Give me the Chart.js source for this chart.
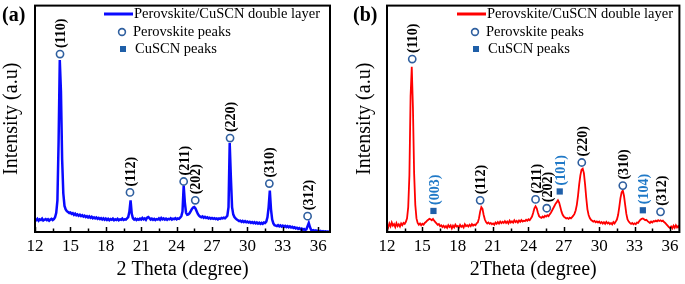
<!DOCTYPE html>
<html>
<head>
<meta charset="utf-8">
<script src="https://cdn.jsdelivr.net/npm/chart.js@4.4.1/dist/chart.umd.min.js"></script>
<style>
  body { margin: 0; background: #fff; }
  #wrap { position: relative; width: 685px; height: 284px; }
  #panelA { position: absolute; left: 0; top: 0; }
  #panelB { position: absolute; left: 342px; top: 0; }
</style>
</head>
<body>
<div id="wrap">
  <canvas id="panelA" width="342" height="284"></canvas>
  <canvas id="panelB" width="343" height="284"></canvas>
</div>
<script>
// 2 theta grid of the scans (degree)
var thetaStart = 12.0;
var thetaStep = 0.1;
var xTickValues = [12, 15, 18, 21, 24, 27, 30, 33, 36];

// (a) intensity, 12.0 .. 37.0 deg
var intensityA = [
    5.5, 5.2, 5.8, 5.0, 5.6, 5.3, 5.9, 5.1, 5.4, 5.7,
    5.2, 5.6, 5.0, 5.5, 5.8, 5.3, 5.7, 6.5, 8.5, 14,
    40, 76, 62, 32, 17, 11.5, 10, 9.2, 8.8, 8.4,
    8.6, 8.0, 8.3, 7.6, 8.1, 7.4, 7.8, 7.2, 7.6, 7.0,
    7.4, 6.8, 7.2, 6.6, 7.0, 6.4, 6.9, 6.3, 6.7, 6.1,
    6.5, 6.0, 6.4, 5.8, 6.2, 5.7, 6.1, 5.5, 6.0, 5.4,
    5.9, 5.3, 5.8, 5.2, 5.7, 5.4, 5.9, 5.2, 5.6, 5.3,
    5.8, 5.2, 5.6, 5.4, 5.9, 5.3, 5.6, 5.5, 6.0, 6.6,
    9, 14, 8, 6, 5.5, 5.9, 5.3, 5.7, 5.4, 5.9,
    5.5, 6.2, 5.6, 6.0, 5.4, 6.3, 6.6, 6.1, 5.5, 5.9,
    5.4, 5.8, 5.3, 5.7, 5.5, 6.0, 5.4, 6.2, 5.6, 6.0,
    5.5, 5.9, 5.4, 5.8, 5.6, 6.1, 5.5, 5.9, 5.7, 6.1,
    5.6, 6.0, 5.8, 6.3, 7.0, 9.0, 20.5, 13, 8.5, 7.6,
    7.8, 8.3, 9.2, 10.2, 10.8, 11, 10.4, 9.2, 8.0, 7.2,
    6.8, 6.5, 6.9, 6.3, 6.7, 6.2, 6.5, 6.0, 6.3, 5.9,
    6.2, 5.8, 6.1, 5.7, 6.0, 5.6, 6.0, 5.8, 6.2, 6.0,
    6.3, 6.1, 6.6, 7.2, 11, 39.3, 24, 11, 7.8, 6.6,
    6.0, 5.5, 5.2, 4.8, 5.0, 4.5, 4.9, 4.4, 4.8, 4.3,
    4.6, 4.2, 4.5, 4.0, 4.4, 3.9, 4.3, 3.8, 4.2, 3.7,
    4.1, 3.6, 4.0, 3.6, 4.2, 4.0, 4.6, 6.5, 11, 18.3,
    10, 5.5, 3.8, 3.0, 2.8, 2.6, 3.0, 2.5, 2.9, 2.4,
    2.8, 2.3, 2.7, 2.2, 2.6, 2.1, 2.5, 2.0, 2.3, 1.8,
    2.1, 1.6, 1.9, 1.4, 1.7, 1.2, 1.5, 1.0, 1.3, 0.9,
    1.2, 2.6, 4.0, 2.2, 0.9, 0.6, 0.8, 0.5, 0.7, 0.4,
    0.6, 0.3, 0.5, 0.2, 0.4, 0.1, 0.3, 0.1, 0.2, 0.1,
    0.1
];

// (b) intensity, 12.0 .. 36.8 deg
var intensityB = [
    3.2, 2.0, 3.8, 2.5, 4.2, 2.8, 3.5, 2.2, 3.9, 2.6,
    3.4, 2.4, 3.8, 3.0, 4.0, 3.6, 4.5, 6, 11, 25,
    60, 73, 55, 26, 12, 6, 4, 3.2, 3.8, 3.0,
    3.6, 3.2, 4.0, 4.4, 5.0, 5.4, 5.8, 5.6, 5.2, 5.8,
    5.0, 4.4, 3.8, 3.2, 3.5, 2.6, 3.0, 2.2, 2.8, 2.0,
    2.6, 1.8, 3.0, 2.2, 2.9, 1.6, 2.8, 2.0, 3.2, 2.4,
    2.7, 1.9, 3.1, 2.3, 2.8, 2.0, 3.4, 2.6, 3.0, 2.4,
    3.2, 2.6, 3.5, 2.8, 3.3, 3.0, 3.8, 4.2, 6.0, 9.0,
    11, 10.2, 7.5, 5.5, 4.4, 3.8, 4.2, 3.6, 4.0, 3.4,
    3.8, 3.2, 4.2, 3.6, 4.4, 3.7, 4.6, 3.9, 4.5, 4.0,
    4.8, 4.0, 4.6, 3.8, 5.0, 4.2, 4.7, 4.1, 5.2, 4.4,
    4.9, 4.2, 5.1, 4.5, 5.3, 4.6, 5.0, 4.8, 5.4, 5.0,
    5.6, 5.2, 6.0, 6.8, 8.5, 10.5, 11.4, 10.5, 8.5, 7.0,
    6.5, 6.2, 6.8, 6.4, 7.2, 6.8, 7.4, 7.0, 7.8, 8.5,
    9.5, 10.5, 11.5, 12.5, 13.2, 14, 13, 11, 9, 7.6,
    6.8, 6.4, 6.0, 6.2, 5.8, 6.3, 6.0, 6.6, 7.2, 8.0,
    9.5, 12, 16, 21, 25, 27.5, 28, 26, 21, 15,
    10, 7.5, 6.2, 5.4, 5.0, 4.6, 4.9, 4.3, 4.7, 4.2,
    4.6, 3.9, 4.4, 3.7, 4.3, 3.6, 4.5, 3.8, 4.2, 3.5,
    4.0, 3.4, 4.4, 3.8, 4.6, 5.5, 7.5, 11, 15, 17.5,
    18.3, 16, 12, 8, 5.5, 4.6, 4.0, 3.6, 4.0, 3.4,
    3.8, 3.4, 4.2, 4.0, 4.8, 5.4, 5.8, 6.0, 5.6, 5.2,
    5.4, 4.8, 4.4, 4.0, 4.6, 4.2, 4.8, 4.6, 5.0, 4.7,
    5.2, 4.9, 5.2, 4.8, 5.0, 4.4, 4.0, 3.4, 2.8, 2.2,
    1.8, 2.4, 1.6, 2.8, 1.9, 3.0, 2.0, 2.6, 1.8
];

// peak markers: 'c' = perovskite (circle), 's' = CuSCN (square)
var peakLabelsA = ['(110)', '(112)', '(211)', '(202)', '(220)', '(310)', '(312)'];
var peakThetaA = [14.12, 20.05, 24.6, 25.58, 28.53, 31.86, 35.1];
var peakMarkA = [78.6, 17.5, 22.3, 14, 41.5, 21.4, 7];
var peakKindA = ['c', 'c', 'c', 'c', 'c', 'c', 'c'];

var peakLabelsB = ['(110)', '(003)', '(112)', '(211)', '(202)', '(101)', '(220)', '(310)', '(104)', '(312)'];
var peakThetaB = [14.14, 15.94, 19.9, 24.6, 25.55, 26.65, 28.52, 32.0, 33.7, 35.2];
var peakMarkB = [76.4, 9.3, 14, 14.4, 10.5, 17.9, 30.7, 20.5, 9.6, 8.9];
var peakKindB = ['c', 's', 'c', 'c', 'c', 's', 'c', 'c', 's', 'c'];

var serif = "'Liberation Serif', 'Times New Roman', serif";
var circleColor = '#2f5f9f';
var squareColor = '#1f5fa8';
var cuscnLabelColor = '#2079c7';

function toPoints(values) {
    return values.map((v, i) => ({ x: +(thetaStart + i * thetaStep).toFixed(1), y: v }));
}

function peakPoints(p, kind) {
    let pts = [];
    p.theta.forEach((t, i) => {
        if (p.kind[i] === kind) pts.push({ x: t, y: p.mark[i] });
    });
    return pts;
}

function makePanel(canvasId, p) {
    var ctx = document.getElementById(canvasId).getContext('2d');

    // frame, inner ticks, peak labels, legend and panel letter
    var decor = {
        id: 'decor',
        afterDatasetsDraw(chart) {
            const c = chart.ctx;
            const xs = chart.scales.x, ys = chart.scales.y;
            c.save();
            c.font = 'bold 14px ' + serif;
            c.textAlign = 'left';
            c.textBaseline = 'middle';
            p.labels.forEach((txt, i) => {
                const px = xs.getPixelForValue(p.theta[i]) + 1.5;
                const py = ys.getPixelForValue(p.mark[i]) - 6;
                c.save();
                c.translate(px, py);
                c.rotate(-Math.PI / 2);
                c.fillStyle = p.kind[i] === 's' ? cuscnLabelColor : '#000';
                c.fillText(txt, 0, 0);
                c.restore();
            });
            c.restore();
        },
        afterDraw(chart) {
            const c = chart.ctx;
            const a = chart.chartArea;
            const xs = chart.scales.x;
            c.save();
            c.strokeStyle = '#000';
            c.lineWidth = 2;
            c.strokeRect(a.left, a.top, a.right - a.left, a.bottom - a.top);

            c.lineWidth = 1.5;
            for (let v = 12; v <= p.xMax; v += 1.5) {
                const px = Math.round(xs.getPixelForValue(v)) + 0.5;
                const len = (v - 12) % 3 === 0 ? 5 : 3.5;
                c.beginPath();
                c.moveTo(px, a.bottom);
                c.lineTo(px, a.bottom - len);
                c.stroke();
            }

            // legend
            const lx = a.left + p.legendX;
            c.strokeStyle = p.color;
            c.lineWidth = 3;
            c.beginPath();
            c.moveTo(lx, 14);
            c.lineTo(lx + 29, 14);
            c.stroke();

            c.strokeStyle = circleColor;
            c.lineWidth = 1.6;
            c.beginPath();
            c.arc(lx + 18, 32, 3.4, 0, Math.PI * 2);
            c.stroke();

            c.fillStyle = squareColor;
            c.fillRect(lx + 16, 46, 6, 6);

            c.fillStyle = '#000';
            c.font = '14.5px ' + serif;
            c.textBaseline = 'middle';
            c.textAlign = 'left';
            c.fillText('Perovskite/CuSCN double layer', lx + 30, 14);
            c.fillText('Perovskite peaks', lx + 29, 32);
            c.fillText('CuSCN peaks', lx + 31, 49);

            c.font = 'bold 20px ' + serif;
            c.fillText(p.letter, p.letterX, 16);
            c.restore();
        }
    };

    new Chart(ctx, {
        type: 'line',
        data: {
            datasets: [
                {
                    data: peakPoints(p, 'c'),
                    showLine: false,
                    pointStyle: 'circle',
                    pointRadius: 3.6,
                    pointBorderWidth: 1.6,
                    pointBorderColor: circleColor,
                    pointBackgroundColor: '#fff',
                    clip: false
                },
                {
                    data: peakPoints(p, 's'),
                    showLine: false,
                    pointStyle: 'rect',
                    pointRadius: 4.4,
                    pointBorderWidth: 0,
                    pointBackgroundColor: squareColor,
                    clip: false
                },
                {
                    data: toPoints(p.values),
                    borderColor: p.color,
                    borderWidth: p.lineWidth,
                    pointRadius: 0,
                    tension: 0,
                    fill: false
                }
            ]
        },
        options: {
            responsive: false,
            animation: false,
            events: [],
            layout: { padding: { top: 3, right: p.rightPad, left: 0, bottom: 0 } },
            plugins: {
                legend: { display: false },
                tooltip: { enabled: false }
            },
            scales: {
                x: {
                    type: 'linear',
                    min: 12,
                    max: p.xMax,
                    afterFit: s => { s.height = 52; },
                    afterBuildTicks: s => { s.ticks = xTickValues.map(v => ({ value: v })); },
                    grid: { display: false, drawTicks: false },
                    border: { display: false },
                    ticks: {
                        color: '#000',
                        font: { family: serif, size: 17 },
                        padding: 4,
                        maxRotation: 0,
                        autoSkip: false
                    },
                    title: {
                        display: true,
                        text: p.xTitle,
                        color: '#000',
                        font: { family: serif, size: 20 },
                        padding: { top: 0, bottom: 2 }
                    }
                },
                y: {
                    min: 0,
                    max: 100,
                    afterFit: s => { s.width = p.yWidth; },
                    grid: { display: false, drawTicks: false },
                    border: { display: false },
                    ticks: { display: false },
                    title: {
                        display: true,
                        text: 'Intensity (a.u)',
                        color: '#000',
                        font: { family: serif, size: 20 },
                        padding: { top: p.yTitlePad, bottom: 0 }
                    }
                }
            }
        },
        plugins: [decor]
    });
}

makePanel('panelA', {
    values: intensityA,
    labels: peakLabelsA, theta: peakThetaA, mark: peakMarkA, kind: peakKindA,
    color: '#0a0aff', lineWidth: 2.5,
    xMax: 37, xTitle: '2 Theta (degree)',
    yWidth: 35, yTitlePad: 0, rightPad: 12,
    legendX: 69, letter: '(a)', letterX: 2
});

makePanel('panelB', {
    values: intensityB,
    labels: peakLabelsB, theta: peakThetaB, mark: peakMarkB, kind: peakKindB,
    color: '#ff0000', lineWidth: 1.8,
    xMax: 36.8, xTitle: '2Theta (degree)',
    yWidth: 45, yTitlePad: 11, rightPad: 5,
    legendX: 70, letter: '(b)', letterX: 11
});
</script>
</body>
</html>
